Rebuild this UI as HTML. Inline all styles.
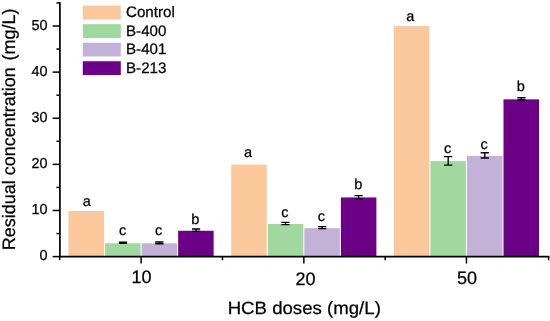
<!DOCTYPE html>
<html><head><meta charset="utf-8"><title>HCB residual concentration</title>
<style>html,body{margin:0;padding:0;background:#fff}svg{display:block}text{font-family:"Liberation Sans",Arial,sans-serif;text-rendering:geometricPrecision;fill:#000;stroke:#000;stroke-width:0.25px}</style></head><body>
<svg width="550" height="321" viewBox="0 0 550 321">
<rect width="550" height="321" fill="#fff"/>
<rect x="68.50" y="211.00" width="35.5" height="45.60" fill="#FBC89B"/>
<rect x="105.05" y="243.30" width="35.5" height="13.30" fill="#A0D8A0"/>
<rect x="141.60" y="243.30" width="35.5" height="13.30" fill="#C2B2D8"/>
<rect x="178.15" y="230.75" width="35.5" height="25.85" fill="#6B0087"/>
<rect x="231.25" y="164.55" width="35.5" height="92.05" fill="#FBC89B"/>
<rect x="267.80" y="223.95" width="35.5" height="32.65" fill="#A0D8A0"/>
<rect x="304.35" y="228.20" width="35.5" height="28.40" fill="#C2B2D8"/>
<rect x="340.90" y="197.45" width="35.5" height="59.15" fill="#6B0087"/>
<rect x="393.85" y="26.10" width="35.5" height="230.50" fill="#FBC89B"/>
<rect x="430.40" y="161.10" width="35.5" height="95.50" fill="#A0D8A0"/>
<rect x="466.95" y="155.90" width="35.5" height="100.70" fill="#C2B2D8"/>
<rect x="503.50" y="99.35" width="35.5" height="157.25" fill="#6B0087"/>
<path d="M118.9 242.1H127.1M118.9 243.4H127.1M123.0 242.1V243.4" stroke="#000" stroke-width="1.35" fill="none"/>
<path d="M155.3 242.0H163.5M155.3 243.7H163.5M159.4 242.0V243.7" stroke="#000" stroke-width="1.35" fill="none"/>
<path d="M192.0 229.0H200.2M192.0 231.3H200.2M196.1 229.0V231.3" stroke="#000" stroke-width="1.35" fill="none"/>
<path d="M281.4 222.4H289.6M281.4 224.6H289.6M285.5 222.4V224.6" stroke="#000" stroke-width="1.35" fill="none"/>
<path d="M318.1 226.6H326.3M318.1 228.6H326.3M322.2 226.6V228.6" stroke="#000" stroke-width="1.35" fill="none"/>
<path d="M354.5 195.6H362.7M354.5 198.9H362.7M358.6 195.6V198.9" stroke="#000" stroke-width="1.35" fill="none"/>
<path d="M444.1 156.6H452.3M444.1 165.1H452.3M448.2 156.6V165.1" stroke="#000" stroke-width="1.35" fill="none"/>
<path d="M480.7 152.7H488.9M480.7 158.0H488.9M484.8 152.7V158.0" stroke="#000" stroke-width="1.35" fill="none"/>
<path d="M517.3 97.7H525.5M517.3 100.0H525.5M521.4 97.7V100.0" stroke="#000" stroke-width="1.35" fill="none"/>
<path d="M59.9 2.2V256.6M59.15 256.6H549.3" stroke="#000" stroke-width="1.7" fill="none"/>
<path d="M52.6 256.60H59.9" stroke="#000" stroke-width="1.5"/>
<path d="M56.4 233.54H59.9" stroke="#000" stroke-width="1.5"/>
<path d="M52.6 210.48H59.9" stroke="#000" stroke-width="1.5"/>
<path d="M56.4 187.42H59.9" stroke="#000" stroke-width="1.5"/>
<path d="M52.6 164.36H59.9" stroke="#000" stroke-width="1.5"/>
<path d="M56.4 141.30H59.9" stroke="#000" stroke-width="1.5"/>
<path d="M52.6 118.24H59.9" stroke="#000" stroke-width="1.5"/>
<path d="M56.4 95.18H59.9" stroke="#000" stroke-width="1.5"/>
<path d="M52.6 72.12H59.9" stroke="#000" stroke-width="1.5"/>
<path d="M56.4 49.06H59.9" stroke="#000" stroke-width="1.5"/>
<path d="M52.6 26.00H59.9" stroke="#000" stroke-width="1.5"/>
<path d="M56.4 2.94H59.9" stroke="#000" stroke-width="1.5"/>
<path d="M141.1 256.6V263.5" stroke="#000" stroke-width="1.5"/>
<path d="M303.85 256.6V263.5" stroke="#000" stroke-width="1.5"/>
<path d="M466.45 256.6V263.5" stroke="#000" stroke-width="1.5"/>
<path d="M59.7 256.6V260.20000000000005" stroke="#000" stroke-width="1.5"/>
<path d="M222.45 256.6V260.20000000000005" stroke="#000" stroke-width="1.5"/>
<path d="M385.15 256.6V260.20000000000005" stroke="#000" stroke-width="1.5"/>
<path d="M548.6 256.6V260.20000000000005" stroke="#000" stroke-width="1.5"/>
<text x="47.4" y="260.45" font-size="14.4" text-anchor="end">0</text>
<text x="47.4" y="214.33" font-size="14.4" text-anchor="end">10</text>
<text x="47.4" y="168.21" font-size="14.4" text-anchor="end">20</text>
<text x="47.4" y="122.09" font-size="14.4" text-anchor="end">30</text>
<text x="47.4" y="75.97" font-size="14.4" text-anchor="end">40</text>
<text x="47.4" y="29.85" font-size="14.4" text-anchor="end">50</text>
<text x="141.5" y="282.9" font-size="18" text-anchor="middle">10</text>
<text x="305.4" y="284.8" font-size="18" text-anchor="middle">20</text>
<text x="467.1" y="283.8" font-size="18" text-anchor="middle">50</text>
<text x="304.25" y="314.3" font-size="17.7" text-anchor="middle" textLength="153.2" lengthAdjust="spacingAndGlyphs">HCB doses (mg/L)</text>
<text transform="translate(14.8 250.3) rotate(-90)" font-size="18">Residual concentration <tspan dx="1.7">(mg/L)</tspan></text>
<rect x="82.8" y="5.60" width="38" height="13.8" fill="#FBC89B"/>
<text x="126.0" y="17.30" font-size="15.15">Control</text>
<rect x="82.8" y="24.15" width="38" height="13.8" fill="#A0D8A0"/>
<text x="126.0" y="35.85" font-size="15.15">B-400</text>
<rect x="82.8" y="42.70" width="38" height="13.8" fill="#C2B2D8"/>
<text x="126.0" y="54.40" font-size="15.15">B-401</text>
<rect x="82.8" y="61.25" width="38" height="13.8" fill="#6B0087"/>
<text x="126.0" y="72.95" font-size="15.15">B-213</text>
<text x="86.7" y="205.7" font-size="14.5" text-anchor="middle">a</text>
<text x="122.7" y="235.1" font-size="14.5" text-anchor="middle">c</text>
<text x="158.7" y="235.1" font-size="14.5" text-anchor="middle">c</text>
<text x="195.4" y="223.6" font-size="14.5" text-anchor="middle">b</text>
<text x="248.0" y="156.8" font-size="14.5" text-anchor="middle">a</text>
<text x="284.9" y="217.3" font-size="14.5" text-anchor="middle">c</text>
<text x="321.3" y="220.8" font-size="14.5" text-anchor="middle">c</text>
<text x="358.2" y="189.2" font-size="14.5" text-anchor="middle">b</text>
<text x="410.2" y="21.1" font-size="14.5" text-anchor="middle">a</text>
<text x="447.7" y="153.2" font-size="14.5" text-anchor="middle">c</text>
<text x="484.2" y="148.5" font-size="14.5" text-anchor="middle">c</text>
<text x="520.8" y="91.3" font-size="14.5" text-anchor="middle">b</text>
</svg></body></html>
